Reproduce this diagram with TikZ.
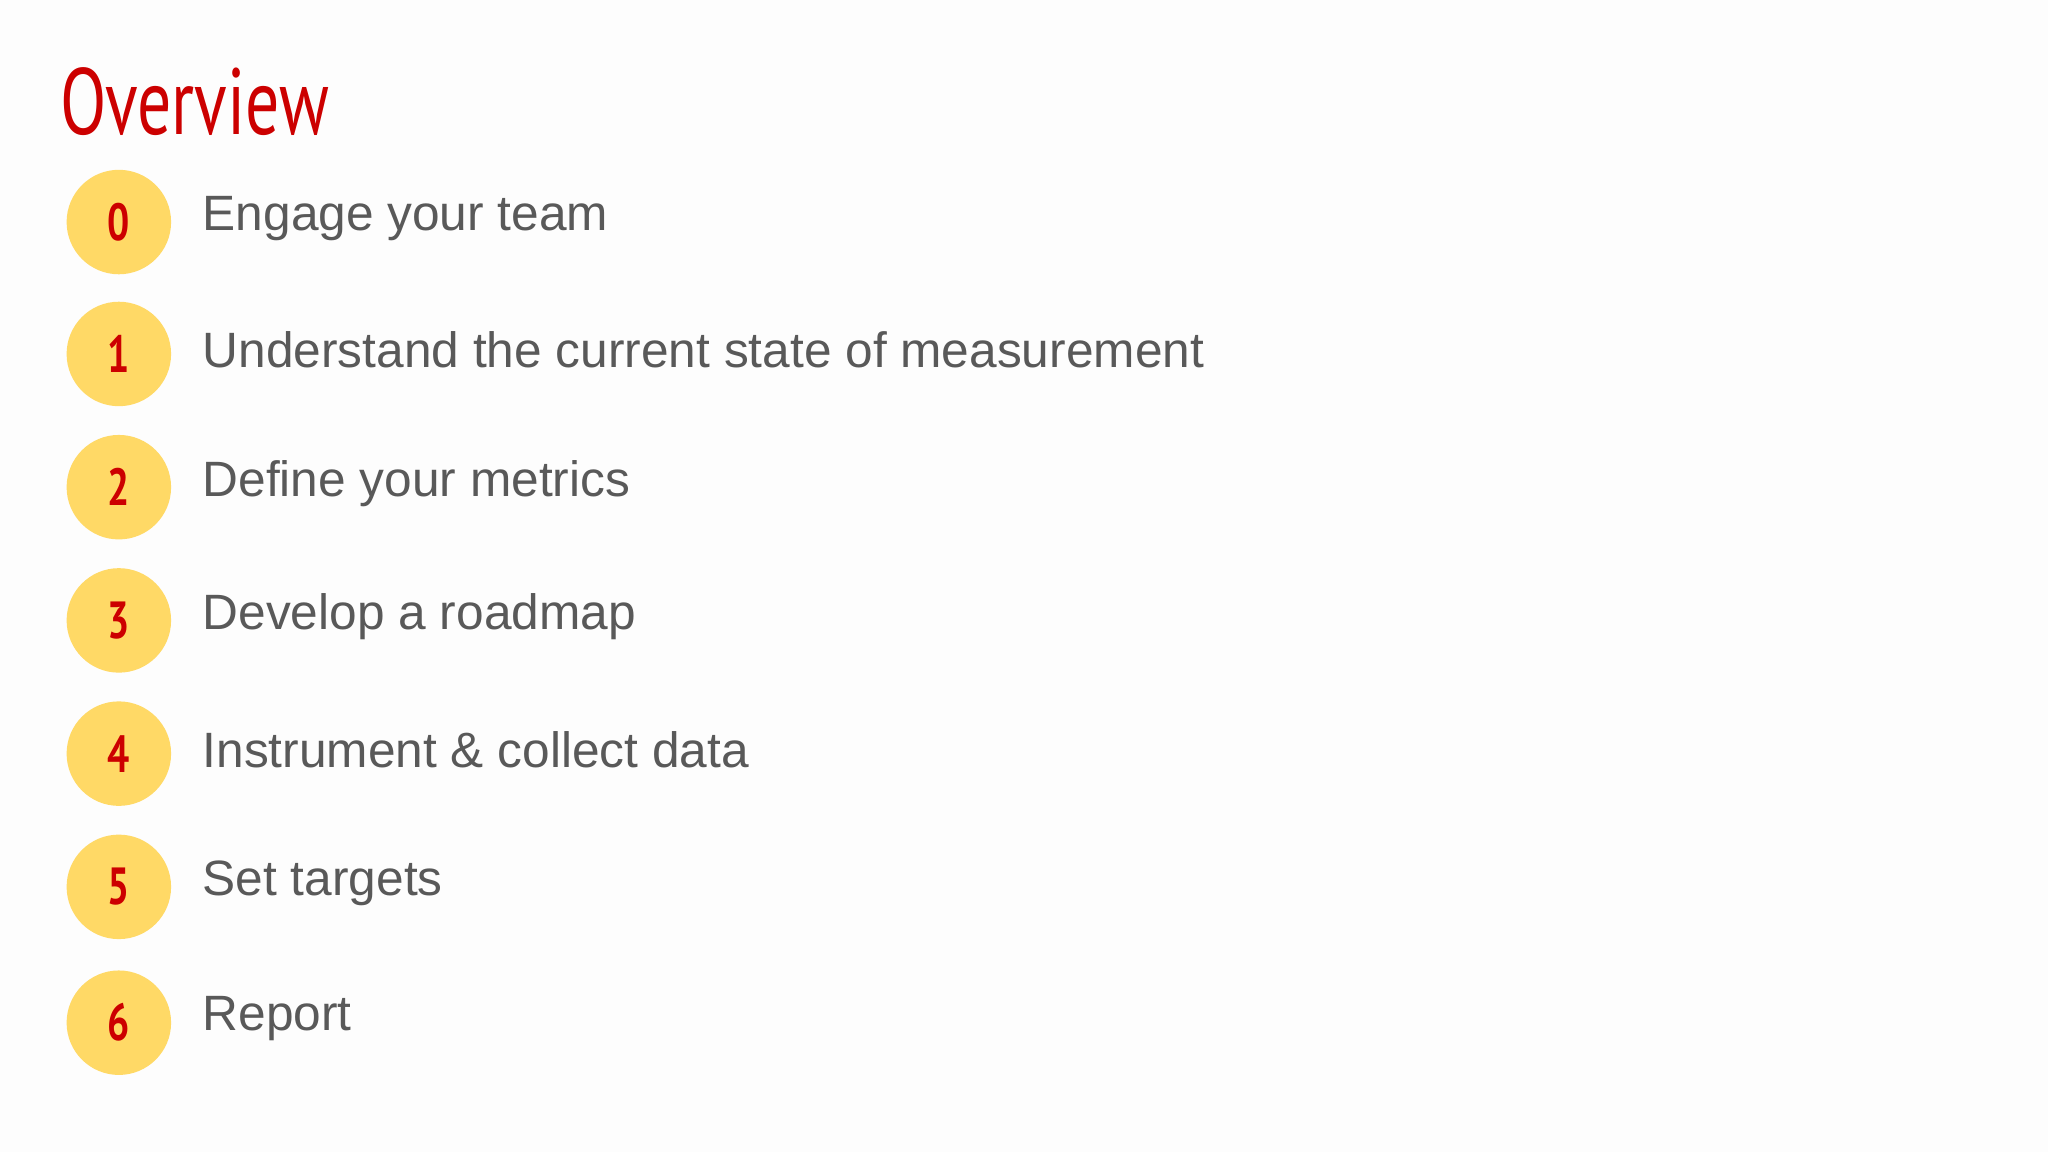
\documentclass[tikz,border=0pt]{standalone}
\usepackage{fontspec}
\setmainfont{Liberation Sans}
\newfontfamily\condf{PT Sans}
\definecolor{bg}{HTML}{FDFDFD}
\definecolor{ttl}{HTML}{CC0000}
\definecolor{circ}{HTML}{FFD966}
\definecolor{txt}{HTML}{595959}
\begin{document}
\begin{tikzpicture}[x=1pt,y=-1pt,
  numc/.style={circle,fill=circ,minimum size=80pt,inner sep=0pt,text=ttl,font=\condf\bfseries\fontsize{40}{40}\selectfont},
  item/.style={anchor=west,text=txt,font=\fontsize{38}{40}\selectfont,inner sep=0pt}]
\fill[bg] (0,0) rectangle (1568,882);
\useasboundingbox (0,0) rectangle (1568,882);
\node[anchor=base west,inner sep=0pt,text=ttl] (title) at (46,103) {\condf\fontsize{72}{72}\selectfont\scalebox{0.72}[1]{Overview}};
\foreach \n/\y/\t in {0/170/Engage your team,1/271/Understand the current state of measurement,2/373/Define your metrics,3/475/Develop a roadmap,4/577/Instrument \& collect data,5/679/Set targets,6/783/Report}{
  \node[numc] (c\n) at (91,\y) {\scalebox{0.75}[1]{\n}};
  \node[item] (t\n) at (155,\y-3) {\t};
}
\end{tikzpicture}
\end{document}
